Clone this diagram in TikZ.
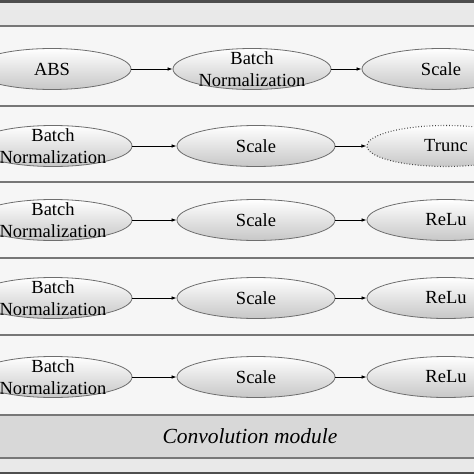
\documentclass[tikz,border=0pt]{standalone}
\usepackage{fontspec}
\setmainfont{Liberation Serif}
\usetikzlibrary{shapes.geometric,arrows.meta}

\definecolor{edgegray}{HTML}{4E4E4E}
\definecolor{topgray}{HTML}{E9E9E9}
\definecolor{rowgray}{HTML}{F6F6F6}
\definecolor{bandgray}{HTML}{D8D8D8}
\definecolor{linegray}{HTML}{777777}
\definecolor{ovalgray}{HTML}{6E6E6E}

\begin{document}
\begin{tikzpicture}[x=1pt,y=-1pt]

        \useasboundingbox (0,0) rectangle (474,474);
        \clip (0,0) rectangle (474,474);

        % background bands
        \fill[topgray]  (0,0)   rectangle (474,26);
        \fill[rowgray]  (0,26)  rectangle (474,415);
        \fill[bandgray] (0,415) rectangle (474,458);
        \fill[topgray]  (0,458) rectangle (474,474);
        \fill[edgegray] (0,0)   rectangle (474,2.5);
        \fill[edgegray] (0,471.5) rectangle (474,474);
        \foreach \y in {26,106,182,258,335,415,458}
          \draw[linegray,line width=1.4pt] (0,\y) -- (474,\y);

        \begin{scope}[every node/.style={ellipse,draw=ovalgray,line width=0.8pt,
            minimum width=158pt,minimum height=41pt,inner sep=0pt,
            top color=white,middle color=white,bottom color=black!22}]
          \node (abs)    at (52,69)   {};
          \node (bn1)    at (252,69)  {};
          \node (sc1)    at (441,69)  {};
          \node (bn2)    at (53,146)  {};
          \node (sc2)    at (256,146) {};
          \node[draw=black!75,dotted,line width=1.1pt] (trunc) at (446,146) {};
          \node (bn3)    at (53,220)  {};
          \node (sc3)    at (256,220) {};
          \node (relu3)  at (446,220) {};
          \node (bn4)    at (53,298)  {};
          \node (sc4)    at (256,298) {};
          \node (relu4)  at (446,298) {};
          \node (bn5)    at (53,377)  {};
          \node (sc5)    at (256,377) {};
          \node (relu5)  at (446,377) {};
        \end{scope}

        \begin{scope}[every node/.style={align=center,inner sep=0pt,
            font=\fontsize{18.5}{22}\selectfont}]
          \node (abs-t)   at (abs)   {ABS};
          \node (bn1-t)   at (bn1)   {Batch\\Normalization};
          \node (sc1-t)   at (sc1)   {Scale};
          \node (bn2-t)   at (bn2)   {Batch\\Normalization};
          \node (sc2-t)   at (sc2)   {Scale};
          \node (trunc-t) at (trunc) {Trunc};
          \node (bn3-t)   at (bn3)   {Batch\\Normalization};
          \node (sc3-t)   at (sc3)   {Scale};
          \node (relu3-t) at (relu3) {ReLu};
          \node (bn4-t)   at (bn4)   {Batch\\Normalization};
          \node (sc4-t)   at (sc4)   {Scale};
          \node (relu4-t) at (relu4) {ReLu};
          \node (bn5-t)   at (bn5)   {Batch\\Normalization};
          \node (sc5-t)   at (sc5)   {Scale};
          \node (relu5-t) at (relu5) {ReLu};
          \node[font=\fontsize{21.5}{25}\selectfont\itshape] (conv) at (250,436.5) {Convolution module};
        \end{scope}

        \begin{scope}[every edge/.style={draw,line width=0.7pt,-{Latex[length=5pt,width=3.5pt]}}]
          \path (abs) edge (bn1);
          \path (bn1) edge (sc1);
          \path (bn2) edge (sc2);
          \path (sc2) edge (trunc);
          \path (bn3) edge (sc3);
          \path (sc3) edge (relu3);
          \path (bn4) edge (sc4);
          \path (sc4) edge (relu4);
          \path (bn5) edge (sc5);
          \path (sc5) edge (relu5);
        \end{scope}

      \end{tikzpicture}
\end{document}
